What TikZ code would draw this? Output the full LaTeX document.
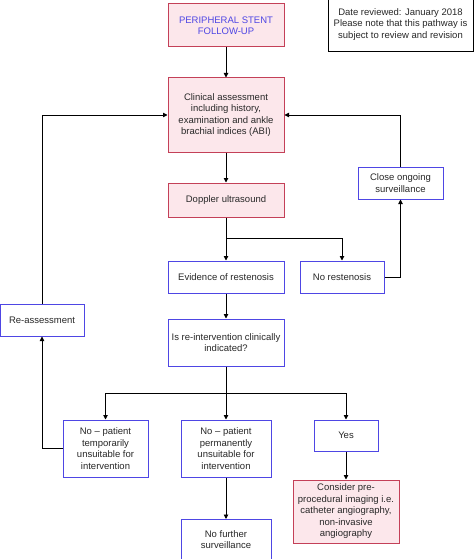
\documentclass[tikz,border=0pt]{standalone}
\usepackage{xcolor}
\usepackage{tikz}
\usetikzlibrary{arrows.meta}
\usepackage{fontspec}
\setmainfont{Liberation Sans}
\definecolor{stentpink}{RGB}{252,231,235}
\definecolor{stentred}{RGB}{196,64,88}
\definecolor{stentblue}{RGB}{78,70,228}
\definecolor{stenttext}{RGB}{40,40,40}
\tikzset{
  basebox/.style={draw, line width=1pt, align=center, inner sep=1pt, text=stenttext,
    font=\fontsize{9.5}{11.5}\selectfont},
  pinkbox/.style={basebox, draw=stentred, fill=stentpink},
  bluebox/.style={basebox, draw=stentblue, fill=white},
  flow/.style={-{Triangle[length=4.5pt,width=4.5pt]}, line width=0.9pt}
}

\begin{document}
\begin{tikzpicture}[x=1pt,y=-1pt]
\clip (0,0) rectangle (474,559);
\fill[white] (0,0) rectangle (474,559);

% top row
\node[pinkbox, minimum width=116pt, minimum height=43pt, text=stentblue] (title) at (226,25.5) {PERIPHERAL STENT\\FOLLOW-UP};
\node[basebox, draw=black, minimum width=145pt, minimum height=54pt] (date) at (400.5,24.5) {Date reviewed: January 2018\\Please note that this pathway is\\subject to review and revision};

% main column
\node[pinkbox, minimum width=116pt, minimum height=74pt] (clin) at (226,115) {Clinical assessment\\including history,\\examination and ankle\\brachial indices (ABI)};
\node[pinkbox, minimum width=116pt, minimum height=34pt] (dop) at (226,200) {Doppler ultrasound};
\node[bluebox, minimum width=85pt, minimum height=32pt] (close) at (400.5,183) {Close ongoing\\surveillance};
\node[bluebox, minimum width=116pt, minimum height=32pt] (evid) at (226,277) {Evidence of restenosis};
\node[bluebox, minimum width=84pt, minimum height=32pt] (nores) at (342,277) {No restenosis};
\node[bluebox, minimum width=84pt, minimum height=32pt] (reas) at (42,320) {Re-assessment};
\node[bluebox, minimum width=116pt, minimum height=47pt] (isre) at (226,342.5) {Is re-intervention clinically\\indicated?};

% outcomes
\node[bluebox, minimum width=85pt, minimum height=57pt] (temp) at (105.5,448.5) {No -- patient\\temporarily\\unsuitable for\\intervention};
\node[bluebox, minimum width=90pt, minimum height=57pt] (perm) at (226,448.5) {No -- patient\\permanently\\unsuitable for\\intervention};
\node[bluebox, minimum width=64pt, minimum height=31pt] (yes) at (346,435.5) {Yes};
\node[pinkbox, minimum width=106pt, minimum height=63pt] (cons) at (346,511.5) {Consider pre-\\procedural imaging i.e.\\catheter angiography,\\non-invasive\\angiography};
\node[bluebox, minimum width=90pt, minimum height=40pt, anchor=north] (nofur) at (226,519) {No further\\surveillance};

\coordinate (split1) at (226,238);
\coordinate (split2) at (226,393);

% connectors
\draw[flow] (title) -- (clin);
\draw[flow] (clin) -- (dop);
\draw[flow] (dop) -- (evid);
\draw[flow] (split1) -| (nores.north);
\draw[flow] (nores.east) -| (close.south);
\draw[flow] (close.north) |- (clin.east);
\draw[flow] (evid) -- (isre);
\draw[flow] (isre) -- (perm);
\draw[flow] (split2) -| (temp.north);
\draw[flow] (split2) -| (yes.north);
\draw[flow] (temp.west) -| (reas.south);
\draw[flow] (reas.north) |- (clin.west);
\draw[flow] (perm) -- (nofur);
\draw[flow] (yes) -- (cons);
\end{tikzpicture}
\end{document}
